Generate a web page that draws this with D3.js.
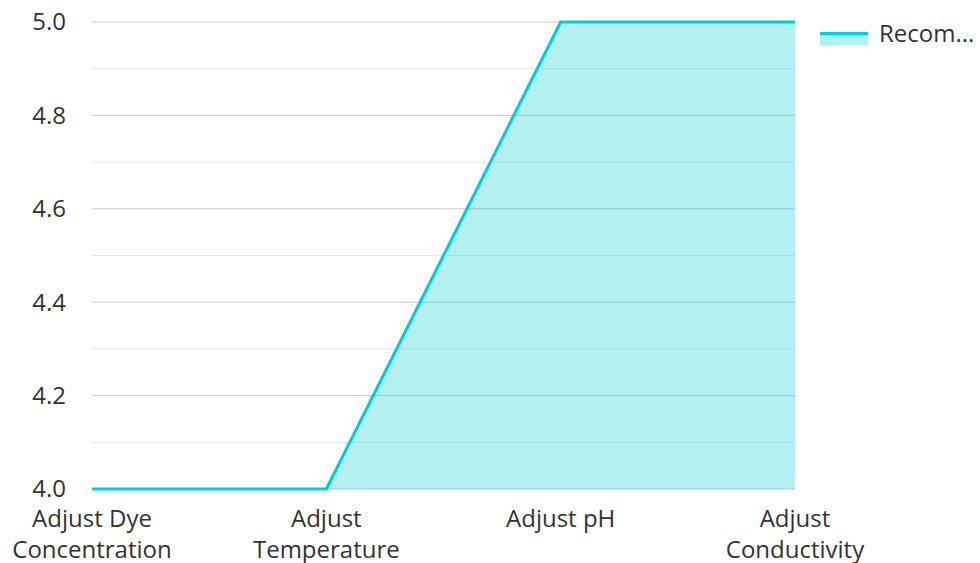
<!DOCTYPE html>
<html><head><meta charset="utf-8">
<script src="https://cdn.jsdelivr.net/npm/d3@7"></script>
<style>body{margin:0;background:#fff;} text{font-family:"Open Sans","Noto Sans",sans-serif;}</style>
</head><body><svg id="c" width="980" height="563"></svg>
<script>
const categories = [["Adjust Dye","Concentration"],["Adjust","Temperature"],["Adjust pH"],["Adjust","Conductivity"]];
const values = [4.0, 4.0, 5.0, 5.0];
const seriesName = "Recom...";
const majorTicks = [4.0, 4.2, 4.4, 4.6, 4.8, 5.0];
const minorTicks = [4.1, 4.3, 4.5, 4.7, 4.9];

(function(){
const svg = d3.select("#c");
const mLeft = 92, mRight = 795, mTop = 22, mBottom = 489;
const x = d3.scalePoint().domain(d3.range(categories.length)).range([mLeft, mRight]);
const y = d3.scaleLinear().domain([4.0, 5.0]).range([mBottom, mTop]);
const color = "#00CED1";
const fs = 24;

svg.append("g").selectAll("line").data(minorTicks).join("line")
  .attr("x1", mLeft).attr("x2", mRight).attr("y1", d=>y(d)).attr("y2", d=>y(d))
  .attr("stroke", "#e6e6e6").attr("stroke-width", 1);
svg.append("g").selectAll("line").data(majorTicks).join("line")
  .attr("x1", mLeft).attr("x2", mRight).attr("y1", d=>y(d)).attr("y2", d=>y(d))
  .attr("stroke", "#c8c8c8").attr("stroke-width", 1);

svg.append("g").selectAll("text").data(majorTicks).join("text")
  .attr("x", 66).attr("y", d=>y(d)).attr("dy", "0.35em").attr("text-anchor", "end")
  .attr("font-size", fs).attr("fill", "#333").text(d=>d.toFixed(1));

const area = d3.area().x((d,i)=>x(i)).y0(y(4.0)).y1(d=>y(d));
svg.append("path").datum(values).attr("d", area).attr("fill", color).attr("fill-opacity", 0.3);
const line = d3.line().x((d,i)=>x(i)).y(d=>y(d));
svg.append("path").datum(values).attr("d", line).attr("fill", "none").attr("stroke", color).attr("stroke-width", 3);

const xl = svg.append("g").selectAll("text").data(categories).join("text")
  .attr("x", (d,i)=>x(i)).attr("y", 527).attr("text-anchor", "middle")
  .attr("font-size", fs).attr("fill", "#333");
xl.each(function(d,i){
  const t = d3.select(this);
  d.forEach((s,j)=>t.append("tspan").attr("x", x(i)).attr("dy", j===0?0:31).text(s));
});

svg.append("rect").attr("x", 820).attr("y", 33).attr("width", 48).attr("height", 12).attr("fill", color).attr("fill-opacity", 0.3);
svg.append("line").attr("x1", 820).attr("x2", 868).attr("y1", 33.5).attr("y2", 33.5).attr("stroke", color).attr("stroke-width", 3);
svg.append("text").attr("x", 879).attr("y", 34).attr("dy", "0.35em").attr("font-size", fs).attr("fill", "#333").text(seriesName);
})();
</script></body></html>
